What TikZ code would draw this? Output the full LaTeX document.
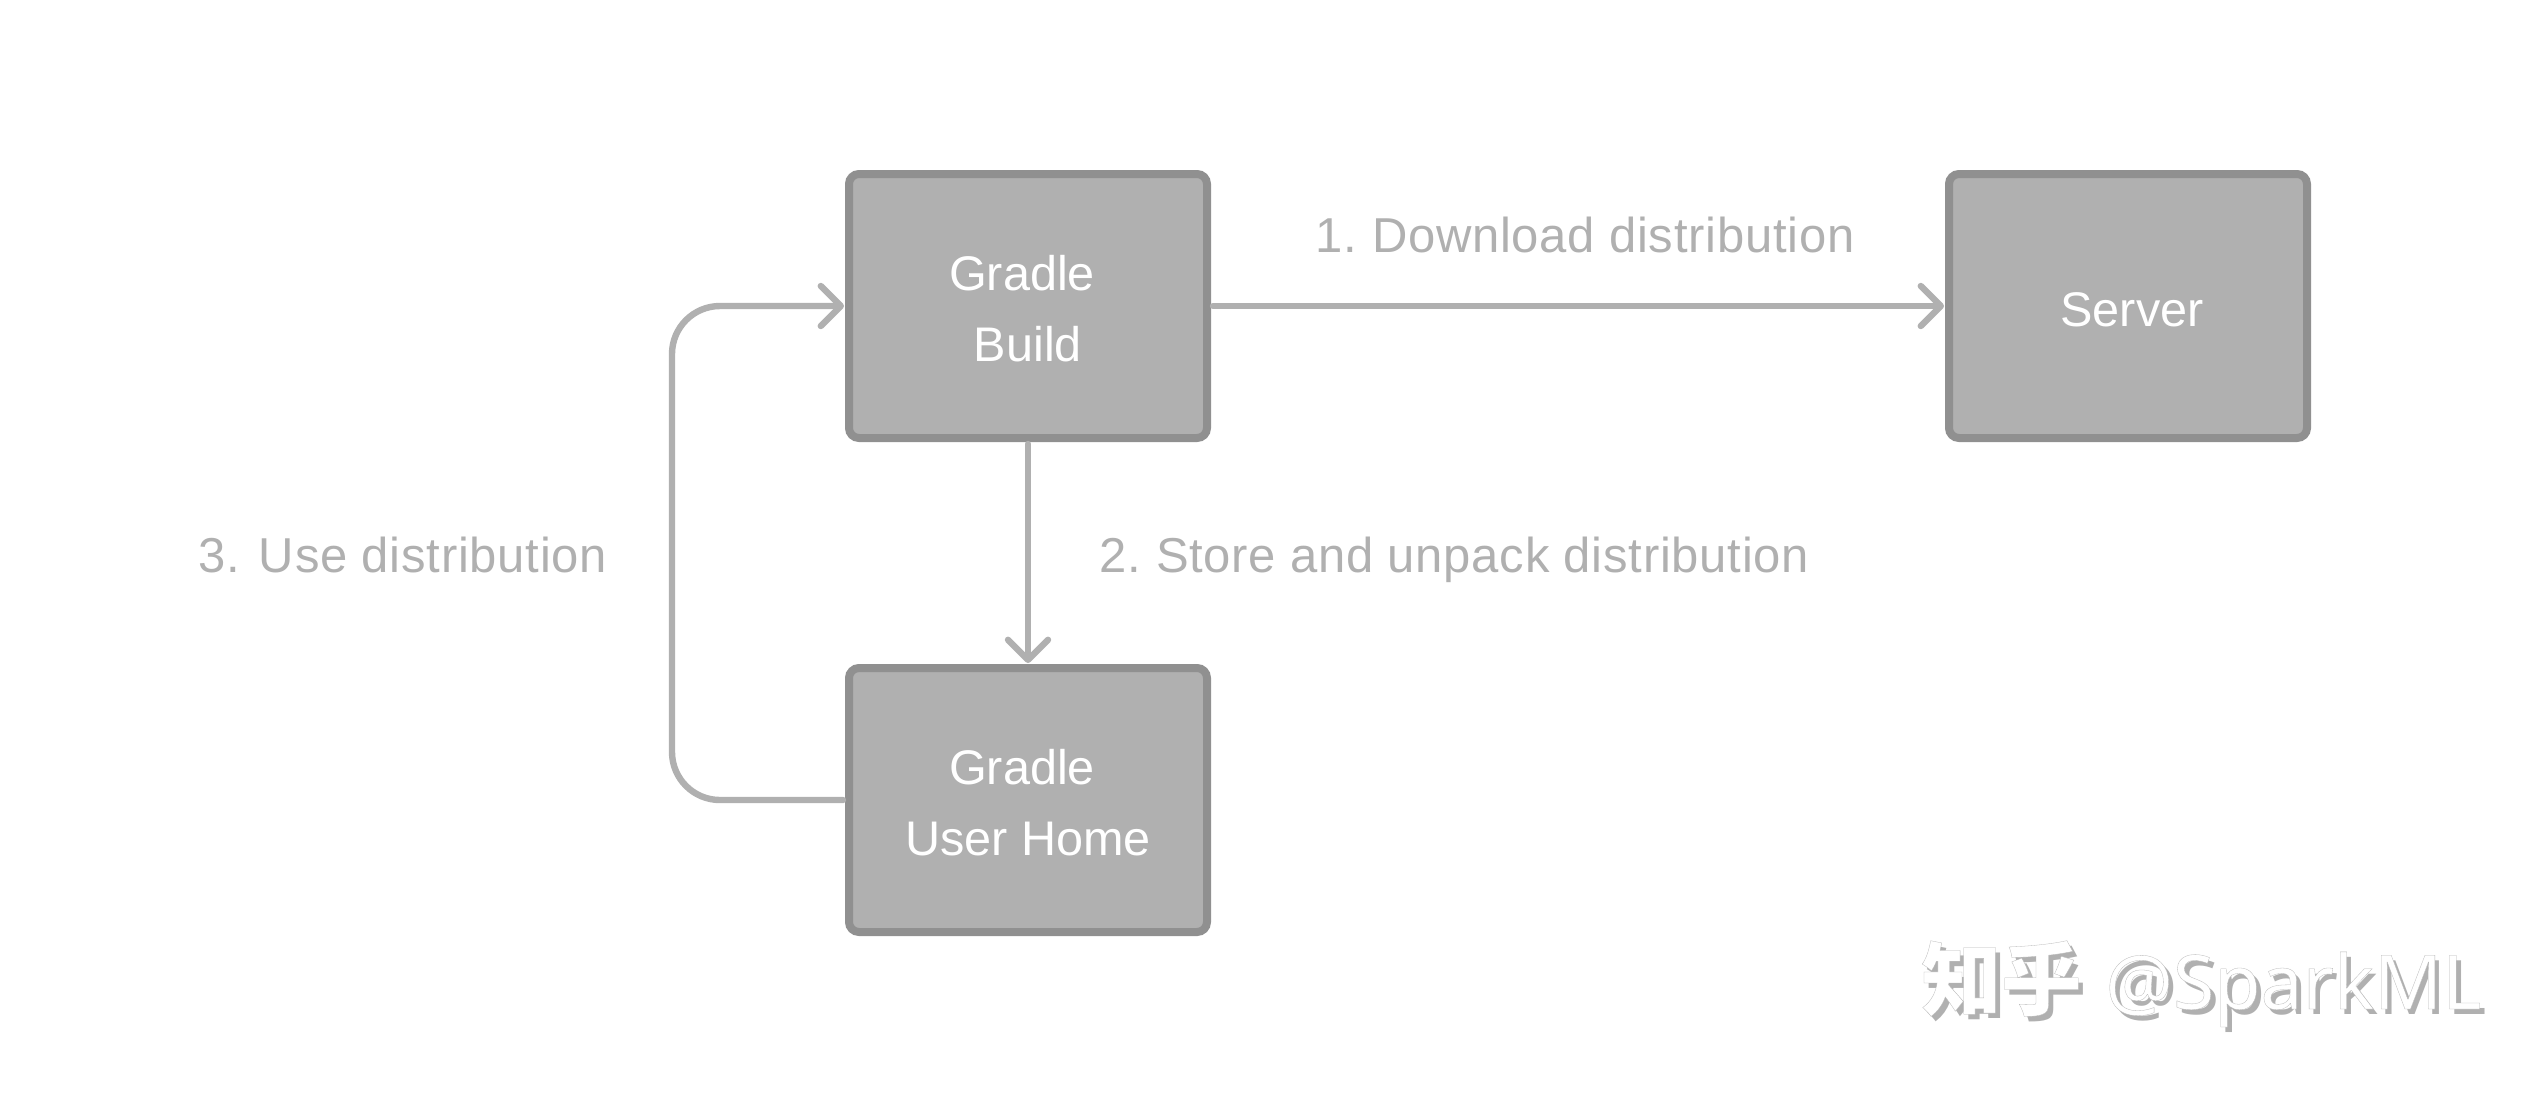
\documentclass[tikz,border=0pt]{standalone}
\usepackage{fontspec}
\usetikzlibrary{arrows.meta}
\setmainfont{Liberation Sans}
\newfontfamily\labfam[LetterSpace=1.5]{Liberation Sans}
\newfontfamily\cjkfam{Noto Sans CJK SC}
\newfontfamily\markfam{Noto Sans}
\definecolor{boxfill}{HTML}{B0B0B0}
\definecolor{boxline}{HTML}{909090}
\tikzset{
  px/.style={x=0.5pt,y=-0.5pt},
  boxnode/.style={draw=boxline,fill=boxfill,line width=4pt,rounded corners=5pt,minimum width=179pt,minimum height=132pt,inner sep=0pt,text=white,align=center,font=\fontsize{24.3}{35.5}\selectfont},
  flow/.style={draw=boxfill,line width=3.2pt,line cap=round,line join=round,-{Straight Barb[length=10pt,width=20pt,line width=3.2pt,round]}},
  lab/.style={text=boxfill,inner sep=0pt,anchor=base west,font=\labfam\fontsize{24.5}{30}\selectfont},
  markshadow/.style={text=boxfill,inner sep=0pt,anchor=base west,font=\fontsize{40}{48}\selectfont},
  markface/.style={text=white,inner sep=0pt,anchor=base west,font=\fontsize{40}{48}\selectfont}
}
\newcommand{\marktext}{{\cjkfam\bfseries 知乎}\hspace{12pt}{\markfam\fontsize{37.6}{48}\selectfont @SparkML}}
\begin{document}
\begin{tikzpicture}[px]
\useasboundingbox (0,0) rectangle (2545,1100);
\fill[white] (0,0) rectangle (2545,1100);
\node[boxnode] (build) at (1028,306) {\hspace*{-6pt}\rule{0pt}{20pt}Gradle\\Build};
\node[boxnode] (server) at (2128,306) {\hspace*{4pt}\rule{0pt}{21pt}Server};
\node[boxnode] (home) at (1028,800) {\hspace*{-6pt}\rule{0pt}{20pt}Gradle\\User Home};
\coordinate (loopb) at (672,800);
\coordinate (loopt) at (672,306);
\draw[flow,shorten <=1pt,shorten >=0.5pt] (build.east) -- (server.west);
\draw[flow,shorten <=1pt,shorten >=0.5pt] (build.south) -- (home.north);
\draw[flow,shorten <=1pt,shorten >=0.5pt,rounded corners=24pt] (home.west) -- (loopb) -- (loopt) -- (build.west);
\node[lab] (l1) at (1315,252) {1.\hspace{7.5pt}Download distribution};
\node[lab] (l2) at (1099,572) {2.\hspace{7.5pt}Store and unpack distribution};
\node[lab] (l3) at (198,572) {3.\hspace{9.5pt}Use distribution};
\node[markshadow] (wms) at (1926,1014) {\marktext};
\node[markface] (wmf) at (1921,1009) {\special{pdf:code 2 Tr 0.15 w 0.72 G 1 g}\marktext\special{pdf:code 0 Tr}};
\end{tikzpicture}
\end{document}
